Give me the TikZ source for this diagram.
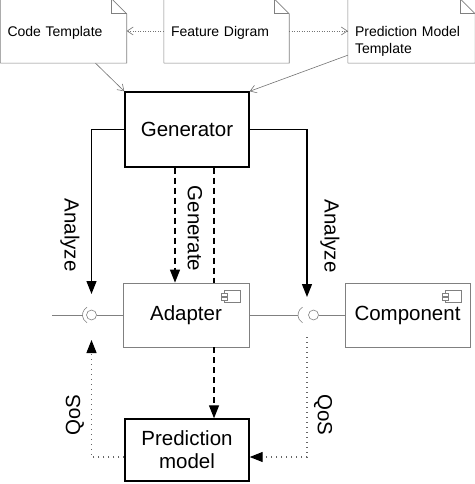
\documentclass[tikz,border=0pt]{standalone}
\usepackage{fontspec}
\setmainfont{Liberation Sans}
\usetikzlibrary{arrows.meta,calc}

% small UML component icon in the top right corner of a node
\newcommand\compicon[1]{%
  \draw[wire,fill=white] ([shift={(-25pt,-8pt)}]#1.north east) rectangle ([shift={(-9pt,-20pt)}]#1.north east);
  \draw[wire,fill=white] ([shift={(-28pt,-10.5pt)}]#1.north east) rectangle ([shift={(-22pt,-13.5pt)}]#1.north east);
  \draw[wire,fill=white] ([shift={(-28pt,-15pt)}]#1.north east) rectangle ([shift={(-22pt,-18pt)}]#1.north east);
}

\begin{document}
\begin{tikzpicture}[x=1pt,y=-1pt,
  doc/.style={rectangle,minimum height=64pt,text width=112pt,inner xsep=7pt,align=left,text depth=0pt,font=\fontsize{14}{17.5}\selectfont},
  docline/.style={draw=black!50,line width=0.6pt},
  box/.style={rectangle,draw,line width=1.4pt,minimum width=124pt,font=\fontsize{20.5}{23}\selectfont},
  part/.style={rectangle,draw=black!50,line width=0.7pt,minimum height=64pt,font=\fontsize{20.5}{23}\selectfont},
  ball/.style={circle,draw=black!50,line width=0.6pt,minimum size=10pt,inner sep=0pt},
  wire/.style={black!50,line width=0.6pt},
  feed/.style={black!55,line width=0.6pt,-{Straight Barb[length=6pt,width=8pt]}},
  hint/.style={feed,dash pattern=on 1pt off 1.5pt},
  analyze/.style={line width=1.3pt,-{Triangle[width=10pt,length=13pt]}},
  gen/.style={analyze,dash pattern=on 6pt off 4pt},
  qos/.style={black!60,line width=1.1pt,dash pattern=on 1pt off 4pt,-{Triangle[width=10pt,length=13pt,color=black]}},
  lab/.style={font=\fontsize{20.5}{23}\selectfont}]
  \useasboundingbox (0,0) rectangle (474,484);

  % templates
  \node[doc] (ct) at (63.5,31) {Code Template};
  \node[doc,text width=111pt] (fd) at (226.5,31) {Feature Digram};
  \node[doc,text width=113pt] (pmt) at (411.5,31) {Prediction Model\\Template};
  \foreach \d in {ct,fd,pmt} {
    \draw[docline] (\d.south west) |- ($(\d.north east)+(-15pt,0)$) -- ($(\d.north east)+(0,-15pt)$) |- (\d.south west);
    \draw[docline] ($(\d.north east)+(-15pt,0)$) |- ($(\d.north east)+(0,-15pt)$);
  }

  \node[box,minimum height=75pt] (gen) at (187,129.5) {Generator};
  \node[part,minimum width=126pt] (ad) at (186,315) {Adapter};
  \node[part,minimum width=125pt] (comp) at (407.5,315) {Component};
  \node[box,minimum height=62pt,align=center,font=\fontsize{20.5}{23}\selectfont] (pm) at (187,450) {Prediction\\model};
  \compicon{ad}
  \compicon{comp}

  \draw[hint] (fd.west) -- (ct.east);
  \draw[hint] (fd.east) -- (pmt.west);
  \draw[feed] ([xshift=32pt]ct.south) -- (gen.north west);
  \draw[feed] ([yshift=8pt]pmt.south west) -- (gen.north east);

  % interfaces
  \node[ball] (lball) at (91.5,315) {};
  \node[ball] (rball) at (313.5,315) {};
  \coordinate (lend) at (52,315);
  \coordinate (lsock) at (82.5,315);
  \coordinate (rs) at (307,315);
  \coordinate (rsock) at (298,315);
  \draw[wire] (lball.center) ++(120:9pt) arc[start angle=120,end angle=240,radius=9pt];
  \draw[wire] (rs) ++(120:9pt) arc[start angle=120,end angle=240,radius=9pt];
  \draw[wire] (lend) -- (lsock);
  \draw[wire] (lball) -- (ad.west);
  \draw[wire] (ad.east) -- (rsock);
  \draw[wire] (rball) -- (comp.west);

  % analyze
  \coordinate (la) at (91.5,294);
  \coordinate (ra) at (307,297);
  \draw[analyze] (gen.west) -| (la);
  \draw[analyze] (gen.east) -| (ra);
  \node[lab,rotate=-90] (lanl) at (70,235) {Analyze};
  \node[lab,rotate=-90] (ranl) at (330,236) {Analyze};

  % generate
  \draw[gen] ([xshift=-12pt]gen.south) -- ([xshift=-11pt]ad.north);
  \draw[gen,-] ([xshift=27pt]gen.south) -- ([xshift=28pt]ad.north);
  \draw[gen] ([xshift=28pt]ad.south) -- ([xshift=27pt]pm.north);
  \node[lab,rotate=-90] (genl) at (195,228.5) {Generate};

  % qos
  \coordinate (lq) at (91.5,340);
  \coordinate (rq) at (307,337);
  \draw[qos] ([yshift=-7pt]pm.west) -| (lq);
  \draw[qos] (rq) |- ([yshift=-7pt]pm.east);
  \node[lab,rotate=90] (lqos) at (75,415) {QoS};
  \node[lab,rotate=-90] (rqos) at (323,415) {QoS};
\end{tikzpicture}
\end{document}
